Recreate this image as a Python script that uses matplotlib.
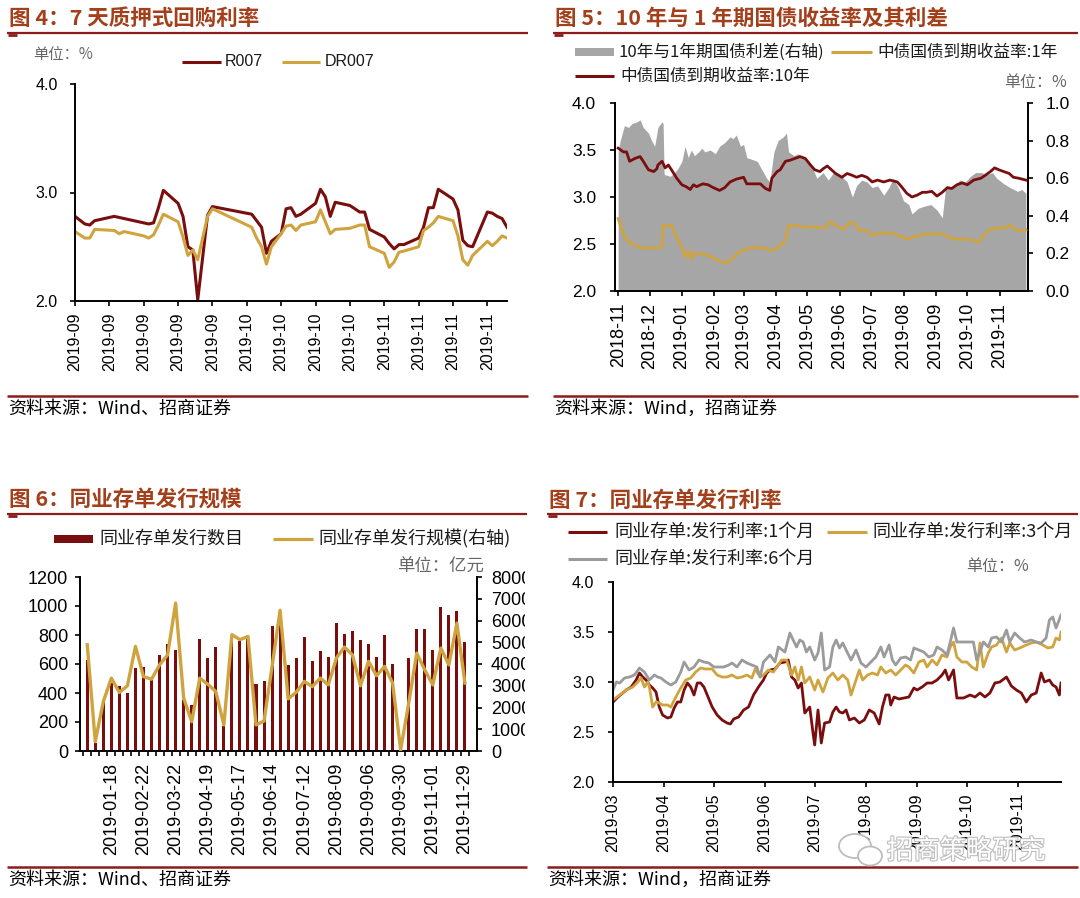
import matplotlib
matplotlib.use('Agg')
import matplotlib.pyplot as plt
import matplotlib.dates as mdates
from matplotlib.lines import Line2D
from matplotlib.patches import Rectangle, Ellipse
from matplotlib.transforms import Bbox, TransformedBbox
import matplotlib.patheffects as pe
import numpy as np
import pandas as pd

# ======================= DATA =======================
# Fig 4: 7-day pledged repo rates (%)
dates4 = ['2019-09-02','2019-09-04','2019-09-05','2019-09-06','2019-09-10','2019-09-11','2019-09-12',
          '2019-09-16','2019-09-17','2019-09-18','2019-09-19','2019-09-20','2019-09-23','2019-09-24',
          '2019-09-25','2019-09-26','2019-09-27','2019-09-29','2019-09-30',
          '2019-10-08','2019-10-09','2019-10-10','2019-10-11','2019-10-12','2019-10-14','2019-10-15',
          '2019-10-16','2019-10-17','2019-10-18','2019-10-21','2019-10-22','2019-10-23','2019-10-24',
          '2019-10-25','2019-10-28','2019-10-30','2019-10-31',
          '2019-11-01','2019-11-04','2019-11-05','2019-11-06','2019-11-07','2019-11-08','2019-11-11',
          '2019-11-12','2019-11-13','2019-11-14','2019-11-15','2019-11-18','2019-11-19','2019-11-20',
          '2019-11-21','2019-11-22','2019-11-25','2019-11-26','2019-11-27','2019-11-28','2019-11-29']
r007 = [2.78,2.71,2.70,2.74,2.78,2.77,2.76,2.72,2.71,2.72,2.86,3.02,2.90,2.78,2.50,2.47,2.01,2.79,2.87,
        2.80,2.74,2.68,2.44,2.55,2.62,2.85,2.86,2.78,2.80,2.90,3.03,2.96,2.78,2.91,2.88,2.82,2.82,
        2.66,2.59,2.53,2.48,2.52,2.52,2.58,2.68,2.86,2.86,3.03,2.94,2.84,2.56,2.51,2.50,2.82,2.81,2.78,2.76,2.68]
dr007 = [2.64,2.58,2.58,2.66,2.65,2.62,2.64,2.60,2.58,2.61,2.70,2.80,2.73,2.59,2.42,2.47,2.38,2.78,2.85,
         2.68,2.58,2.50,2.34,2.50,2.62,2.69,2.70,2.65,2.70,2.73,2.84,2.73,2.62,2.66,2.67,2.70,2.70,
         2.50,2.44,2.31,2.36,2.45,2.46,2.50,2.65,2.68,2.72,2.78,2.74,2.60,2.38,2.33,2.42,2.55,2.51,2.55,2.60,2.58]

# Fig 5: government bond yields (%), days counted from start5
start5 = '2018-11-01'
days5_10y = [0,5,8,11,16,21,24,29,34,37,38,42,45,48,51,56,61,65,69,72,75,81,86,91,97,102,107,113,120,123,
             129,136,141,145,147,152,155,160,164,169,174,179,184,188,193,196,200,203,208,214,219,224,228,
             233,238,243,248,254,260,267,271,276,281,286,291,295,300,305,310,315,319,324,329,334,340,347,
             351,356,360,364,369,374,378,383,390]
yield10y = [3.52,3.48,3.48,3.38,3.41,3.43,3.38,3.29,3.27,3.30,3.34,3.38,3.31,3.34,3.29,3.20,3.13,3.11,3.08,3.13,
            3.11,3.14,3.13,3.10,3.07,3.10,3.16,3.19,3.21,3.14,3.14,3.14,3.09,3.07,3.20,3.27,3.29,3.38,3.39,3.41,
            3.43,3.41,3.34,3.29,3.27,3.30,3.33,3.30,3.25,3.21,3.25,3.23,3.21,3.23,3.21,3.16,3.18,3.16,3.18,3.16,
            3.11,3.04,3.00,3.02,3.05,3.05,3.06,3.01,3.05,3.10,3.09,3.13,3.15,3.13,3.18,3.20,3.23,3.27,3.31,3.29,
            3.27,3.25,3.21,3.20,3.18]
days5_1y = [0,5,10,16,22,29,37,42,43,51,56,61,64,67,70,73,80,86,93,99,104,109,115,123,133,139,145,153,160,163,
            169,177,184,192,198,203,209,216,222,227,230,238,243,248,256,263,271,276,283,289,295,305,311,319,
            326,334,340,345,351,356,362,369,375,380,385,390]
yield1y = [2.77,2.61,2.52,2.49,2.46,2.46,2.46,2.47,2.70,2.70,2.57,2.46,2.36,2.43,2.34,2.41,2.39,2.38,2.34,2.31,
           2.30,2.34,2.41,2.45,2.46,2.46,2.43,2.46,2.54,2.70,2.70,2.68,2.68,2.68,2.67,2.74,2.69,2.66,2.73,2.71,
           2.65,2.64,2.59,2.61,2.62,2.61,2.58,2.55,2.58,2.59,2.61,2.61,2.60,2.56,2.55,2.55,2.54,2.52,2.61,2.66,
           2.67,2.67,2.70,2.65,2.64,2.65]
days5_spread = [0,2,6,10,13,18,21,24,29,32,35,38,42,43,44,50,54,57,61,64,67,70,73,77,80,83,88,93,97,102,
                107,110,113,117,120,123,128,133,137,142,145,149,153,158,161,163,168,172,177,184,190,196,201,
                206,212,219,224,228,233,238,243,248,254,259,263,268,273,278,281,287,292,299,305,310,313,318,
                323,327,332,337,342,347,353,358,362,369,375,382,386,390]
spread = [0.74,0.80,0.88,0.87,0.89,0.90,0.91,0.87,0.84,0.80,0.77,0.87,0.90,0.89,0.62,0.61,0.63,0.65,0.69,0.77,
          0.71,0.75,0.72,0.74,0.76,0.74,0.75,0.73,0.77,0.79,0.82,0.81,0.83,0.77,0.78,0.71,0.70,0.69,0.65,0.60,
          0.58,0.74,0.80,0.82,0.84,0.74,0.72,0.73,0.71,0.68,0.60,0.63,0.59,0.63,0.62,0.58,0.50,0.56,0.59,0.58,
          0.55,0.56,0.51,0.55,0.60,0.55,0.48,0.46,0.41,0.44,0.45,0.46,0.43,0.39,0.54,0.55,0.57,0.59,0.58,0.61,
          0.63,0.63,0.62,0.63,0.60,0.57,0.55,0.53,0.54,0.52]

# Fig 6: weekly NCD issuance
weeks6 = ['2018-12-28','2019-01-04','2019-01-11','2019-01-18','2019-01-25','2019-02-01','2019-02-15',
          '2019-02-22','2019-03-01','2019-03-08','2019-03-15','2019-03-22','2019-03-29','2019-04-04',
          '2019-04-12','2019-04-19','2019-04-26','2019-05-05','2019-05-10','2019-05-17','2019-05-24',
          '2019-05-31','2019-06-06','2019-06-14','2019-06-21','2019-06-28','2019-07-05','2019-07-12',
          '2019-07-19','2019-07-26','2019-08-02','2019-08-09','2019-08-16','2019-08-23','2019-08-30',
          '2019-09-06','2019-09-12','2019-09-20','2019-09-27','2019-09-30','2019-10-12','2019-10-18',
          '2019-10-25','2019-11-01','2019-11-08','2019-11-15','2019-11-22','2019-11-29']
ncd_count = [625,55,345,470,445,400,575,580,490,665,735,700,350,315,770,640,720,170,770,760,770,460,480,865,
             880,590,640,785,620,690,645,885,810,830,765,740,650,800,600,0,640,840,840,700,995,935,965,750]
ncd_amount = [4885,430,2270,3350,2690,3000,4810,3420,3300,3960,4420,6800,2430,1350,3350,3070,2730,1200,
              5350,5120,5270,1200,1380,3890,6470,2400,2700,3200,2960,3350,3040,4270,4780,4420,3000,4120,
              3460,3890,3120,50,2200,4500,3730,3040,4730,3960,5880,3120]

# Fig 7: NCD issuance rates (%), days counted from start7
start7 = '2019-03-01'
days7_1m = [0,3,8,11,14,16,18,20,22,24,26,28,30,33,35,37,39,41,43,45,47,49,51,53,55,57,60,63,66,69,
            71,73,76,79,82,85,88,91,93,95,98,101,104,106,108,110,112,114,116,119,121,122,124,126,128,131,
            133,135,137,139,141,143,146,149,152,155,158,161,163,165,167,168,170,173,176,179,182,184,187,190,
            193,196,199,201,203,206,208,212,216,219,222,225,228,231,234,238,241,244,247,250,253,256,259,261,
            264,266,268,270,271]
rate1m = [2.80,2.85,2.92,2.95,3.02,3.09,3.05,3.02,2.97,2.94,2.90,2.75,2.67,2.64,2.65,2.74,2.80,2.80,2.92,2.99,
          2.95,2.87,2.99,2.99,2.95,2.87,2.75,2.67,2.62,2.59,2.58,2.63,2.65,2.72,2.75,2.87,2.95,3.02,3.09,3.12,
          3.13,3.19,3.20,3.22,3.05,3.02,2.94,2.99,2.69,2.75,2.49,2.37,2.72,2.39,2.59,2.60,2.70,2.75,2.70,2.69,
          2.72,2.62,2.64,2.59,2.62,2.72,2.69,2.58,2.75,2.87,2.87,2.77,2.85,2.83,2.84,2.85,2.94,2.92,2.95,2.99,
          2.99,3.02,3.07,3.12,3.02,3.12,2.84,2.84,2.87,2.85,2.89,2.85,2.89,2.99,3.00,3.05,2.96,2.92,2.89,2.80,
          2.87,2.89,3.09,3.00,3.02,2.97,2.95,2.87,2.99]
days7_3m = [0,4,8,12,15,17,19,21,22,24,26,28,30,33,35,38,41,44,47,50,53,56,60,63,66,69,72,75,78,81,
            84,86,89,91,94,97,100,102,105,108,110,112,114,116,119,122,124,127,130,133,136,139,142,144,147,
            149,151,154,157,160,162,165,168,171,174,177,179,182,185,188,190,193,196,199,202,204,206,208,211,
            214,217,220,222,224,227,229,232,235,238,240,243,246,250,253,256,260,263,266,268,270,271]
rate3m = [2.82,2.87,2.92,2.95,3.00,3.04,2.95,3.00,2.95,2.75,2.80,2.79,2.77,2.77,2.75,2.85,2.94,3.02,3.04,3.10,
          3.14,3.13,3.13,3.07,3.05,3.05,3.07,3.04,3.05,3.07,3.04,3.13,3.05,3.07,3.12,3.10,3.17,3.22,3.22,3.07,
          3.15,3.02,3.15,2.99,3.05,2.92,3.02,2.90,3.04,3.09,3.02,3.07,3.02,2.87,3.02,3.12,3.02,3.07,3.09,3.07,
          3.15,3.09,3.12,3.07,3.12,3.17,3.15,3.09,3.20,3.22,3.15,3.22,3.17,3.27,3.25,3.35,3.40,3.25,3.20,3.20,
          3.15,3.12,3.39,3.15,3.29,3.35,3.37,3.44,3.30,3.39,3.32,3.34,3.37,3.39,3.40,3.37,3.34,3.35,3.44,3.42,
          3.50]
days7_6m = [0,2,4,7,10,13,16,19,22,25,27,29,32,35,38,41,43,46,49,52,55,58,61,64,67,70,72,75,78,81,
            84,87,89,91,95,98,100,104,107,109,111,113,115,117,119,122,124,126,128,131,133,135,137,139,141,
            144,147,150,153,156,159,162,164,167,169,171,174,177,180,182,185,188,191,194,196,199,202,204,206,
            208,211,215,218,220,222,224,227,229,232,235,238,240,243,246,249,253,256,259,262,264,266,268,271]
rate6m = [2.92,3.00,2.99,3.04,3.05,3.07,3.14,3.10,3.02,3.07,3.05,3.04,3.00,2.97,3.00,3.10,3.20,3.12,3.15,3.22,
          3.20,3.19,3.15,3.15,3.15,3.17,3.19,3.15,3.22,3.19,3.17,3.15,3.05,3.20,3.27,3.20,3.35,3.30,3.49,3.42,
          3.35,3.42,3.40,3.30,3.35,3.22,3.29,3.49,3.12,3.15,3.35,3.42,3.34,3.39,3.32,3.22,3.32,3.19,3.15,3.20,
          3.25,3.35,3.25,3.37,3.22,3.17,3.24,3.25,3.22,3.34,3.32,3.30,3.25,3.27,3.35,3.32,3.27,3.40,3.54,3.40,
          3.40,3.40,3.40,3.22,3.30,3.40,3.35,3.44,3.45,3.40,3.52,3.40,3.49,3.44,3.40,3.42,3.40,3.39,3.44,3.62,
          3.65,3.54,3.67]

# ======================= STYLE =======================
plt.rcParams['font.family'] = ['Liberation Sans', 'Noto Sans CJK SC', 'DejaVu Sans']
CJK = ['Noto Sans CJK SC', 'Liberation Sans', 'DejaVu Sans']
LAT = ['Liberation Sans', 'DejaVu Sans']
RED = '#7A0E0E'
GOLD = '#CFA43F'
GRAY_FILL = '#A6A6A6'
GRAY_LINE = '#9B9B9B'
TITLE_C = '#A3401B'
RULE_C = '#8E1B1B'
UNIT_C = '#666666'
TXT_C = '#1A1A1A'

W, H = 1080, 898
fig = plt.figure(figsize=(W / 100, H / 100), dpi=100)

def fx(x): return x / W
def fy(y): return 1 - y / H

def add_axes(l, r, t, b):
    return fig.add_axes([fx(l), fy(b), (r - l) / W, (b - t) / H])

def ftext(x, y, s, size, color=TXT_C, weight='normal', family=CJK, ha='left', va='center', **kw):
    return fig.text(fx(x), fy(y), s, fontsize=size, color=color, fontweight=weight,
                    family=family, ha=ha, va=va, **kw)

def hline(x0, x1, y, color, lw):
    fig.add_artist(Line2D([fx(x0), fx(x1)], [fy(y), fy(y)], transform=fig.transFigure,
                          color=color, lw=lw, solid_capstyle='butt'))

def rect(x0, x1, y0, y1, color):
    fig.add_artist(Rectangle((fx(x0), fy(y1)), (x1 - x0) / W, (y1 - y0) / H,
                             transform=fig.transFigure, color=color, lw=0))

def style(ax, show=('left', 'bottom')):
    for s in ['top', 'right', 'left', 'bottom']:
        ax.spines[s].set_visible(s in show)
        ax.spines[s].set_linewidth(1.4)
    ax.tick_params(direction='out', length=3.5, width=1.2, colors='black')

def header(x0, x1, y_title, y_rule, title):
    ftext(x0 + 2, y_title, title, 15.5, color=TITLE_C, weight='bold')
    hline(x0, x1, y_rule, RULE_C, 1.6)
    hline(x0 + 1, x0 + 10, y_rule + 2, RULE_C, 2.0)

def footer(x0, x1, y_rule, text):
    hline(x0, x1, y_rule, RULE_C, 1.8)
    ftext(x0 + 1, y_rule + 13, text, 13, color='black')

# ======================= FIG 4 =======================
header(7, 528, 18, 33, '图 4：7 天质押式回购利率')
footer(7, 528, 396, '资料来源：Wind、招商证券')
ftext(33, 54, '单位：%', 11, color=UNIT_C)
hline(182, 221, 62, RED, 2.2)
ftext(225, 62, 'R007', 11.5, family=LAT)
hline(282, 320, 62, GOLD, 2.2)
ftext(325, 62, 'DR007', 11.5, family=LAT)

ax4 = add_axes(75, 507, 84, 301)
t4 = pd.to_datetime(dates4)
ax4.plot(t4, r007, color=RED, lw=2.2)
ax4.plot(t4, dr007, color=GOLD, lw=2.2)
ax4.set_ylim(2.0, 4.0)
ax4.set_yticks([2.0, 3.0, 4.0])
ax4.set_yticklabels(['2.0', '3.0', '4.0'])
ax4.set_xlim(pd.Timestamp('2019-09-02'), pd.Timestamp('2019-11-29'))
ax4.xaxis.set_major_locator(mdates.WeekdayLocator(byweekday=mdates.MO))
ax4.xaxis.set_major_formatter(mdates.DateFormatter('%Y-%m'))
style(ax4)
ax4.tick_params(axis='y', labelsize=11.5, pad=9)
ax4.tick_params(axis='x', labelsize=11.5, labelrotation=90, pad=5)

# ======================= FIG 5 =======================
header(553, 1078, 18, 33, '图 5：10 年与 1 年期国债收益率及其利差')
footer(553, 1078, 396, '资料来源：Wind，招商证券')
rect(575, 614, 48, 56, GRAY_FILL)
ftext(619, 52, '10年与1年期国债利差(右轴)', 12)
hline(831, 872, 52, GOLD, 2.2)
ftext(877, 52, '中债国债到期收益率:1年', 12)
hline(575, 614, 76, RED, 2.2)
ftext(620, 76, '中债国债到期收益率:10年', 12)
ftext(1004, 82, '单位：%', 11.5, color=UNIT_C)

ax5 = add_axes(615, 1028, 103, 291)
ax5r = ax5.twinx()
s5 = pd.Timestamp(start5)
t_sp = s5 + pd.to_timedelta(days5_spread, unit='D')
t_10 = s5 + pd.to_timedelta(days5_10y, unit='D')
t_1 = s5 + pd.to_timedelta(days5_1y, unit='D')
ax5r.fill_between(t_sp, 0, spread, color=GRAY_FILL, lw=0)
ax5r.set_ylim(0, 1.0)
ax5r.set_yticks([0.0, 0.2, 0.4, 0.6, 0.8, 1.0])
ax5r.set_yticklabels(['0.0', '0.2', '0.4', '0.6', '0.8', '1.0'])
ax5.set_zorder(ax5r.get_zorder() + 1)
ax5.patch.set_visible(False)
ax5.plot(t_1, yield1y, color=GOLD, lw=2.0)
ax5.plot(t_10, yield10y, color=RED, lw=2.0)
ax5.set_ylim(2.0, 4.0)
ax5.set_yticks([2.0, 2.5, 3.0, 3.5, 4.0])
ax5.set_yticklabels(['2.0', '2.5', '3.0', '3.5', '4.0'])
ax5.set_xlim(pd.Timestamp('2018-10-29'), pd.Timestamp('2019-11-28'))
ax5.xaxis.set_major_locator(mdates.MonthLocator())
ax5.xaxis.set_major_formatter(mdates.DateFormatter('%Y-%m'))
style(ax5)
style(ax5r, show=('right',))
ax5.tick_params(axis='y', labelsize=12.5, pad=10)
ax5r.tick_params(axis='y', labelsize=12.5, pad=9)
ax5.tick_params(axis='x', labelsize=13, labelrotation=90, pad=5)

# ======================= FIG 6 =======================
header(7, 527, 500, 514, '图 6：同业存单发行规模')
footer(7, 527, 867, '资料来源：Wind、招商证券')
rect(54, 93, 535, 543, RED)
ftext(99, 539, '同业存单发行数目', 13)
hline(273, 313, 539, GOLD, 2.3)
ftext(318, 539, '同业存单发行规模(右轴)', 13)
ftext(397, 567, '单位：亿元', 12.5, color=UNIT_C)

ax6 = add_axes(80, 477, 577, 751)
x6 = np.arange(len(weeks6))
ax6.bar(x6, ncd_count, width=0.38, color=RED, zorder=2)
ax6.set_ylim(0, 1200)
ax6.set_yticks(range(0, 1201, 200))
ax6r = ax6.twinx()
ax6r.plot(x6, ncd_amount, color=GOLD, lw=2.4)
ax6r.set_ylim(0, 8000)
ax6r.set_yticks(range(0, 8001, 1000))
ax6.set_xlim(-0.9, 48.5)
lab_idx = x6[3::4]
ax6.set_xticks(lab_idx)
ax6.set_xticklabels([weeks6[i] for i in lab_idx])
ax6.set_xticks(np.arange(-0.5, len(weeks6), 1.0), minor=True)
style(ax6)
style(ax6r, show=('right',))
ax6.tick_params(axis='x', which='major', length=0, labelsize=13, labelrotation=90, pad=8.5)
ax6.tick_params(axis='x', which='minor', direction='out', length=3.5, width=1.2)
ax6.tick_params(axis='y', labelsize=13, pad=5)
ax6r.tick_params(axis='y', labelsize=13, pad=6.5)
# the source image is cropped through the right-axis labels
clip6 = TransformedBbox(Bbox([[0, 0], [525 / W, 1]]), fig.transFigure)
for lab in ax6r.get_yticklabels():
    lab.set_clip_on(True)
    lab.set_clip_box(clip6)

# ======================= FIG 7 =======================
header(547, 1078, 500, 514, '图 7：同业存单发行利率')
footer(547, 1078, 867, '资料来源：Wind，招商证券')
hline(568, 607, 532, RED, 2.2)
ftext(614, 532, '同业存单:发行利率:1个月', 13)
hline(827, 867, 532, GOLD, 2.2)
ftext(872, 532, '同业存单:发行利率:3个月', 13)
hline(568, 607, 559, GRAY_LINE, 2.2)
ftext(614, 559, '同业存单:发行利率:6个月', 13)
ftext(966, 567, '单位：%', 11.5, color=UNIT_C)

ax7 = add_axes(613, 1061, 582, 782)
s7 = pd.Timestamp(start7)
ax7.plot(s7 + pd.to_timedelta(days7_1m, unit='D'), rate1m, color=RED, lw=2.0)
ax7.plot(s7 + pd.to_timedelta(days7_3m, unit='D'), rate3m, color=GOLD, lw=2.0)
ax7.plot(s7 + pd.to_timedelta(days7_6m, unit='D'), rate6m, color=GRAY_LINE, lw=2.0)
ax7.set_ylim(2.0, 4.0)
ax7.set_yticks([2.0, 2.5, 3.0, 3.5, 4.0])
ax7.set_yticklabels(['2.0', '2.5', '3.0', '3.5', '4.0'])
ax7.set_xlim(pd.Timestamp('2019-03-01'), pd.Timestamp('2019-11-27'))
ax7.xaxis.set_major_locator(mdates.MonthLocator())
ax7.xaxis.set_major_formatter(mdates.DateFormatter('%Y-%m'))
style(ax7)
ax7.tick_params(axis='y', labelsize=11.5, pad=10)
ax7.tick_params(axis='x', labelsize=11.5, labelrotation=90, pad=4.5)

# watermark (overlays the lower axis labels, as in the source)
wm = ftext(887, 851, '招商策略研究', 19, color='white', zorder=20)
wm.set_path_effects([pe.withStroke(linewidth=1.6, foreground='#BDBDBD')])
for (cx, cy, w, h) in [(855, 846, 32, 24), (870, 856, 24, 19)]:
    fig.add_artist(Ellipse((fx(cx), fy(cy)), w / W, h / H, transform=fig.transFigure,
                           facecolor='white', edgecolor='#BDBDBD', lw=1.3, zorder=19))

fig.savefig('out.png', dpi=100, facecolor='white')
